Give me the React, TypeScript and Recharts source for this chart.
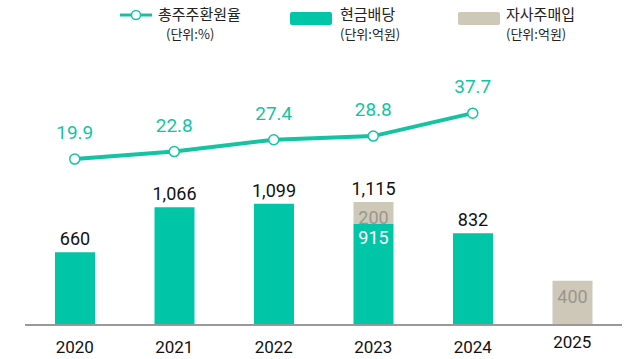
import { ComposedChart, Bar, Line, XAxis, YAxis, LabelList } from 'recharts';

const years = ['2020', '2021', '2022', '2023', '2024', '2025'];
const cashDividend = [660, 1066, 1099, 915, 832, 0];
const buyback = [0, 0, 0, 200, 0, 400];
const returnRate = [19.9, 22.8, 27.4, 28.8, 37.7, null];

const TEAL = '#00C6A7';
const LINE = '#14C3A2';
const BEIGE = '#CEC8B9';

const data = years.map((y, i) => ({
    year: y,
    cash: cashDividend[i] || null,
    buyback: buyback[i] || null,
    rate: returnRate[i],
}));

const fmt = (v: number) => v.toLocaleString('en-US');

const NUM_FONT = 'Roboto, "Noto Sans", sans-serif';
const KR_FONT = '"Noto Sans CJK KR", "Noto Sans", sans-serif';

// label value carries "cash|buyback" so the label knows about the other segment
const pair = (d: any) => `${d.cash || 0}|${d.buyback || 0}`;

function CashLabel(props: any) {
    const { x, y, width, value } = props;
    const [c, b] = String(value).split('|').map(Number);
    if (!c) return null;
    const cx = x + width / 2;
    if (b > 0) {
        return (
            <text x={cx} y={y + 20} textAnchor="middle" fill="#fff" fontSize={18} fontFamily={NUM_FONT}>
                {fmt(c)}
            </text>
        );
    }
    return (
        <text x={cx} y={y - 7} textAnchor="middle" fill="#111" fontSize={18} fontFamily={NUM_FONT}>
            {fmt(c)}
        </text>
    );
}

function BuybackLabel(props: any) {
    const { x, y, width, value } = props;
    const [c, b] = String(value).split('|').map(Number);
    if (!b) return null;
    const cx = x + width / 2;
    return (
        <g>
            <text x={cx} y={y + 22} textAnchor="middle" fill="#9a968e" fontSize={18} fontFamily={NUM_FONT}>
                {fmt(b)}
            </text>
            {c > 0 && (
                <text x={cx} y={y - 7} textAnchor="middle" fill="#111" fontSize={18} fontFamily={NUM_FONT}>
                    {fmt(b + c)}
                </text>
            )}
        </g>
    );
}

function YearTick(props: any) {
    const { x, y, payload, index } = props;
    const dy = index === years.length - 1 ? 15 : 20;
    return (
        <text x={x} y={y + dy} textAnchor="middle" fill="#111" fontSize={17} fontFamily='"Liberation Sans Narrow", Roboto, sans-serif'>
            {payload.value}
        </text>
    );
}

function RateDot(props: any) {
    const { cx, cy, value } = props;
    if (value == null || cx == null) return null;
    return <circle cx={cx} cy={cy} r={5} fill="#fff" stroke={LINE} strokeWidth={1.5} />;
}

export default function App() {
    return (
        <div style={{ position: 'absolute', left: 0, top: 0, width: 640, height: 359, background: '#fff' }}>
            {/* Legend */}
            <div style={{ position: 'absolute', left: 0, top: 0, width: 640, height: 50, fontFamily: KR_FONT, color: '#222' }}>
                <svg style={{ position: 'absolute', left: 120, top: 8 }} width={32} height={14}>
                    <line x1={0} y1={7} x2={32} y2={7} stroke={LINE} strokeWidth={3} />
                    <circle cx={16} cy={7} r={4.5} fill="#fff" stroke={LINE} strokeWidth={1.5} />
                </svg>
                <div style={{ position: 'absolute', left: 158, top: 6, fontSize: 15, lineHeight: '16px' }}>총주주환원율</div>
                <div style={{ position: 'absolute', left: 166, top: 27, fontSize: 13, lineHeight: '14px' }}>(단위:%)</div>

                <div style={{ position: 'absolute', left: 290, top: 12, width: 42, height: 13, background: TEAL, borderRadius: 2 }} />
                <div style={{ position: 'absolute', left: 340, top: 6, fontSize: 15, lineHeight: '16px' }}>현금배당</div>
                <div style={{ position: 'absolute', left: 340, top: 27, fontSize: 13, lineHeight: '14px' }}>(단위:억원)</div>

                <div style={{ position: 'absolute', left: 458, top: 12, width: 42, height: 13, background: BEIGE, borderRadius: 2 }} />
                <div style={{ position: 'absolute', left: 506, top: 6, fontSize: 15, lineHeight: '16px' }}>자사주매입</div>
                <div style={{ position: 'absolute', left: 506, top: 27, fontSize: 13, lineHeight: '14px' }}>(단위:억원)</div>
            </div>

            <ComposedChart
                width={640}
                height={359}
                data={data}
                margin={{ top: 60, right: 18, bottom: 0, left: 25 }}
                style={{ position: 'absolute', left: 0, top: 0 }}
            >
                <XAxis
                    dataKey="year"
                    height={34}
                    axisLine={{ stroke: '#999', strokeWidth: 2 }}
                    tickLine={false}
                    tick={<YearTick />}
                    interval={0}
                />
                <YAxis yAxisId="amt" hide domain={[0, 2400]} />
                <YAxis yAxisId="rate" hide orientation="right" domain={[-44.4, 58.3]} />
                <Bar yAxisId="amt" dataKey="cash" stackId="a" fill={TEAL} barSize={40} isAnimationActive={false}>
                    <LabelList dataKey={pair} content={<CashLabel />} />
                </Bar>
                <Bar yAxisId="amt" dataKey="buyback" stackId="a" fill={BEIGE} barSize={40} isAnimationActive={false}>
                    <LabelList dataKey={pair} content={<BuybackLabel />} />
                </Bar>
                <Line
                    yAxisId="rate"
                    dataKey="rate"
                    stroke={LINE}
                    strokeWidth={4}
                    dot={<RateDot />}
                    activeDot={false}
                    isAnimationActive={false}
                >
                    <LabelList dataKey="rate" position="top" offset={20} fill={LINE} fontSize={19} fontFamily={NUM_FONT} />
                </Line>
            </ComposedChart>
        </div>
    );
}
